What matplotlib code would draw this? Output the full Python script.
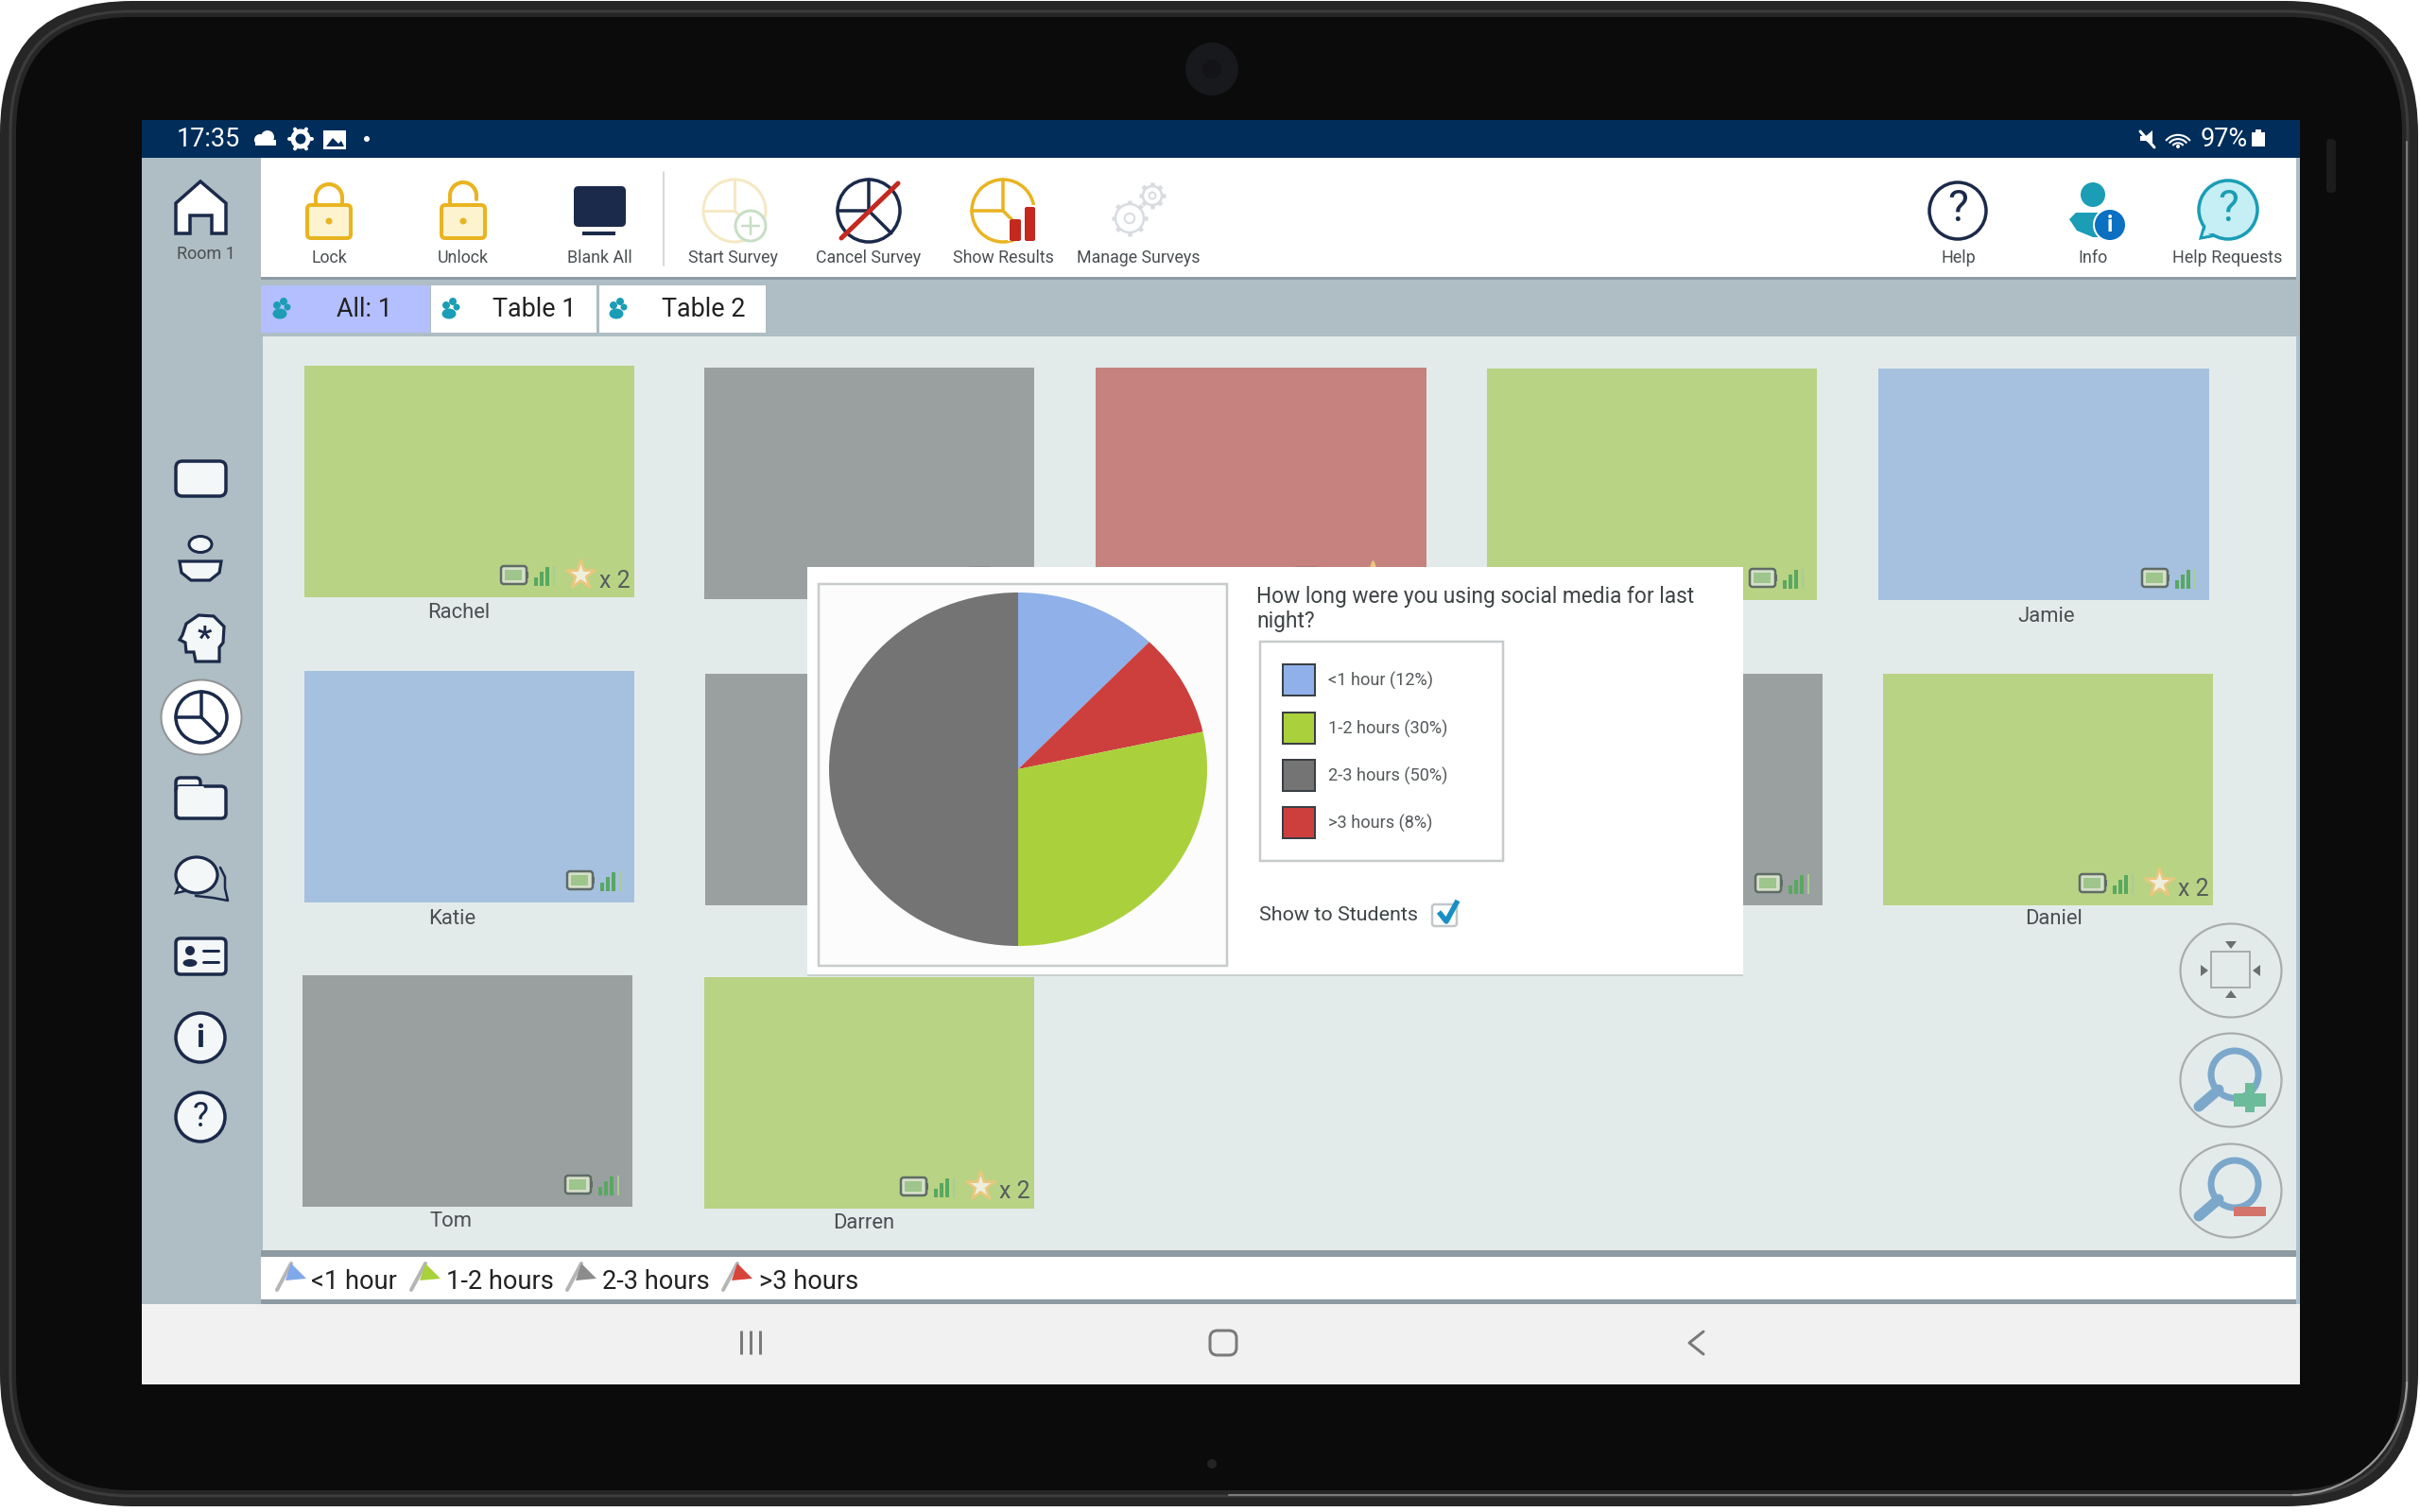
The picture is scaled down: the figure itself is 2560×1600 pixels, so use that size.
import math
import matplotlib
matplotlib.use('Agg')
import matplotlib.pyplot as plt
from matplotlib.patches import Rectangle, Circle, Ellipse, FancyBboxPatch, Polygon, Arc

plt.rcParams['font.family'] = ['Roboto', 'DejaVu Sans']

# survey data
responses = ['<1 hour', '1-2 hours', '2-3 hours', '>3 hours']
shares = [12, 30, 50, 8]
# slices as drawn in the picture, clockwise from the top
slice_values = [12.2, 9.4, 28.4, 50]
slice_resp = [0, 3, 1, 2]
question = ['How long were you using social media for last', 'night?']

# student tiles, row by row. resp indexes responses
tile_names = ['Rachel', '', '', '', 'Jamie', 'Katie', '', '', 'Daniel', 'Tom', 'Darren']
tile_resp = [1, 2, 3, 1, 0, 0, 2, 2, 1, 2, 1]
tile_stars = [2, 0, 1, 0, 0, 0, 0, 0, 2, 0, 2]

toolbar_labels = ['Lock', 'Unlock', 'Blank All', 'Start Survey', 'Cancel Survey', 'Show Results', 'Manage Surveys']
right_labels = ['Help', 'Info', 'Help Requests']
tab_labels = ['All: 1', 'Table 1', 'Table 2']

# colours
resp_colors = ['#8FB0E8', '#AAD03B', '#747474', '#CC3F3D']
tile_colors = ['#A6C0DF', '#B8D384', '#9AA0A0', '#C5827E']
flag_colors = ['#7FA9EA', '#A9D13A', '#8C8C8C', '#D8443A']
NAVY = '#1B2A4A'
AMBER = '#E9B422'
TEAL = '#1A9DB5'
SIDE = '#AFBDC4'
TEXT = '#4A4F52'

# layout in pixels
tile_x = [322, 745, 1159, 1573, 1987, 322, 746, 1579, 1992, 320, 745]
tile_y = [387, 389, 389, 390, 390, 710, 713, 713, 713, 1032, 1034]
tile_w = [349, 349, 350, 349, 350, 349, 349, 349, 349, 349, 349]
name_x = [485, 0, 0, 0, 2165, 478, 0, 0, 2173, 477, 914]
name_y = [647, 0, 0, 0, 651, 971, 0, 0, 971, 1291, 1293]
TILE_H = 245

fig = plt.figure(figsize=(25.6, 16), dpi=100, facecolor='white')
ax = fig.add_axes([0, 0, 1, 1])
ax.set_xlim(0, 2560)
ax.set_ylim(1600, 0)
ax.axis('off')


def rect(x0, y0, x1, y1, color, z=2, **kw):
    ax.add_patch(Rectangle((x0, y0), x1 - x0, y1 - y0, facecolor=color, edgecolor=kw.pop('ec', 'none'),
                           linewidth=kw.pop('lw', 0) * 0.72, zorder=z, **kw))


def rrect(x0, y0, x1, y1, r, fc, ec='none', lw=0, z=3):
    ax.add_patch(FancyBboxPatch((x0 + r, y0 + r), x1 - x0 - 2 * r, y1 - y0 - 2 * r,
                                boxstyle='round,pad=%f,rounding_size=%f' % (r, r),
                                facecolor=fc, edgecolor=ec, linewidth=lw * 0.72, zorder=z))


def circ(x, y, r, fc='none', ec='none', lw=0, z=3):
    ax.add_patch(Circle((x, y), r, facecolor=fc, edgecolor=ec, linewidth=lw * 0.72, zorder=z))


def ell(x, y, w, h, fc='none', ec='none', lw=0, z=3):
    ax.add_patch(Ellipse((x, y), w, h, facecolor=fc, edgecolor=ec, linewidth=lw * 0.72, zorder=z))


def line(xs, ys, color, lw=3, z=4, cap='round'):
    ax.plot(xs, ys, color=color, linewidth=lw * 0.72, solid_capstyle=cap, zorder=z)


def poly(pts, fc, ec='none', lw=0, z=4):
    ax.add_patch(Polygon(pts, closed=True, facecolor=fc, edgecolor=ec, linewidth=lw * 0.72, zorder=z))


def label(x, y, s, px, color=TEXT, ha='center', z=6, **kw):
    ax.text(x, y + 1.5, s, fontsize=px * 0.72, color=color, ha=ha, va='center', zorder=z, **kw)


# tablet body
rrect(0, 1, 2558, 1594, 140, '#262626', z=1)
rrect(11, 12, 2547, 1583, 128, 'none', ec='#3C3C3C', lw=3, z=1)
rrect(17, 18, 2541, 1577, 122, '#0B0B0B', z=1)
line([2546, 2546], [150, 1462], '#7C7C7C', lw=2, z=1)
line([1300, 2425], [1582, 1582], '#7C7C7C', lw=2, z=1)
ax.add_patch(Arc((2425, 1462), 242, 240, theta1=0, theta2=90, color='#9A9A9A', linewidth=1.6, zorder=1))
circ(1282, 73, 28, fc='#17191D', z=1)
circ(1282, 73, 10, fc='#141317', z=1)
circ(1282, 1549, 5, fc='#242424', z=1)
rrect(2461, 147, 2471, 204, 4, '#1C1C1C', z=1)

# screen regions
rect(150, 127, 2433, 167, '#002D5A')
rect(150, 167, 278, 1380, SIDE)
rect(276, 167, 2433, 356, SIDE)
rect(276, 167, 2429, 293, 'white')
rect(276, 293, 2429, 296, '#8E9AA1')
rect(278, 356, 2429, 1323, '#E3EBEA')
rect(2429, 356, 2433, 1380, '#AFC3CF')
rect(276, 1323, 2429, 1330, '#8E9AA1')
rect(276, 1330, 2429, 1375, 'white')
rect(276, 1375, 2429, 1380, '#8E9AA1')
rect(150, 1380, 2433, 1465, '#F1F1F1')

# status bar
label(187, 146, '17:35', 27, color='white', ha='left')
circ(275, 148, 6, fc='white')
circ(283, 145, 7, fc='white')
rect(270, 148, 292, 154, 'white', z=4)
circ(318, 147, 8, ec='white', lw=5)
for i in range(6):
    a = i * math.pi / 3
    line([318 + 8 * math.cos(a), 318 + 12 * math.cos(a)],
         [147 + 8 * math.sin(a), 147 + 12 * math.sin(a)], 'white', lw=4)
rect(342, 138, 366, 158, 'white')
poly([(345, 155), (352, 146), (358, 152), (361, 149), (364, 155)], '#002D5A')
circ(388, 147, 3, fc='white')
line([2264, 2279], [139, 156], 'white', lw=3)
poly([(2264, 144), (2270, 144), (2277, 138), (2277, 154), (2270, 149), (2264, 149)], 'white')
for r in [32, 23, 14]:
    ax.add_patch(Arc((2304, 158), r, r * 0.95, theta1=215, theta2=325, color='white', linewidth=1.5, zorder=4))
circ(2304, 155, 2, fc='white')
label(2328, 146, '97%', 27, color='white', ha='left')
rect(2382, 140, 2396, 155, 'white')
rect(2386, 137, 2392, 140, 'white')

# room button
poly([(186, 215), (212, 192), (239, 215), (239, 247), (224, 247), (224, 228), (201, 228), (201, 247), (186, 247)],
     'white', ec=NAVY, lw=3.5)
label(218, 268, 'Room 1', 18)


# toolbar icons
def lock(x, opened):
    rrect(x - 23, 217, x + 23, 252, 4, '#FDF3CF', ec=AMBER, lw=4)
    circ(x, 234, 3.5, fc=AMBER, z=5)
    cy = 207 if opened else 209
    ax.add_patch(Arc((x, cy), 28, 28, theta1=180, theta2=360, color=AMBER, linewidth=3, zorder=4))
    line([x - 14, x - 14], [cy, 217], AMBER, lw=4)
    line([x + 14, x + 14], [cy, 211 if opened else 217], AMBER, lw=4)


def pie_icon(x, y, r, color, lw=3.5, z=4):
    circ(x, y, r, fc='white', ec=color, lw=lw, z=z)
    line([x, x], [y - r, y], color, lw=lw, z=z + 1)
    line([x - r, x], [y, y], color, lw=lw, z=z + 1)
    line([x, x + r * 0.72], [y, y + r * 0.72], color, lw=lw, z=z + 1)


def gear(x, y, r, color):
    circ(x, y, r, ec=color, lw=2.5)
    circ(x, y, r * 0.35, ec=color, lw=2)
    for i in range(8):
        a = i * math.pi / 4
        line([x + r * math.cos(a), x + (r + 4) * math.cos(a)],
             [y + r * math.sin(a), y + (r + 4) * math.sin(a)], color, lw=4.5, cap='butt')


lock(348, False)
lock(490, True)
rrect(607, 197, 662, 240, 5, NAVY)
rect(616, 245, 651, 249, NAVY)
line([702, 702], [182, 281], '#C8CDD0', lw=1.5)
pie_icon(777, 223, 33, '#F5E8C4', lw=3)
circ(794, 239, 16, fc='white', ec='#C7DFC4', lw=3, z=6)
line([794, 794], [230, 248], '#C7DFC4', lw=2.5, z=7)
line([785, 803], [239, 239], '#C7DFC4', lw=2.5, z=7)
pie_icon(919, 223, 33, NAVY)
line([950, 890], [194, 252], '#C4281F', lw=5, z=7)
pie_icon(1061, 223, 33, AMBER)
rect(1066, 232, 1082, 255, 'white', z=6)
rect(1082, 217, 1097, 255, 'white', z=6)
rrect(1068, 232, 1080, 255, 2, '#C4281F', z=7)
rrect(1084, 219, 1095, 255, 2, '#C4281F', z=7)
gear(1195, 231, 15, '#D8DCE0')
gear(1219, 207, 10, '#D8DCE0')

for x, s in zip([348, 490, 634, 775, 919, 1061, 1204], toolbar_labels):
    label(x, 271, s, 17.8)

# right hand icons
circ(2071, 223, 30, fc='white', ec=NAVY, lw=3.5)
label(2071, 220, '?', 46, color=NAVY)
circ(2214, 206, 13, fc=TEAL)
poly([(2189, 232), (2196, 225), (2232, 225), (2232, 251), (2214, 251), (2197, 244)], TEAL)
circ(2232, 238, 18, fc='white', z=4)
circ(2232, 238, 16, fc='#0B6FC2', z=5)
label(2232, 237, 'i', 24, color='white', fontweight='bold')
poly([(2332, 238), (2328, 252), (2350, 248)], '#C5EEF5', ec=TEAL, lw=3)
circ(2357, 222, 31, fc='#C5EEF5', ec=TEAL, lw=3.5, z=4)
poly([(2334, 236), (2332, 248), (2348, 246)], '#C5EEF5', z=5)
label(2357, 219, '?', 46, color=TEAL)
for x, s in zip([2072, 2214, 2356], right_labels):
    label(x, 271, s, 18)


# tabs
def people(x, y, color):
    circ(x + 2, y - 7, 4, fc=color)
    circ(x - 5, y - 3, 4, fc=color)
    circ(x + 6, y - 1, 3.5, fc=color)
    ell(x - 2, y + 6, 15, 11, fc=color)


rect(276, 302, 455, 352, '#B3BFFF')
rect(456, 302, 631, 352, 'white')
rect(634, 302, 810, 352, 'white')
for x, tx, s in zip([298, 477, 654], [385, 565, 744], tab_labels):
    people(x, 326, '#1A9DB5')
    label(tx, 326, s, 27, color='#222222')

# sidebar
SX = 212
rrect(186, 488, 239, 525, 7, '#F4F7F8', ec=NAVY, lw=3.5)
ell(SX, 576, 24, 17, fc='#F4F7F8', ec=NAVY, lw=3)
poly([(190, 594), (234, 594), (232, 606), (222, 614), (202, 614), (192, 606)], '#F4F7F8', ec=NAVY, lw=3.2)
poly([(193, 672), (197, 660), (210, 651), (226, 652), (237, 663), (236, 680), (232, 685), (232, 700), (207, 700),
      (205, 690), (197, 690), (196, 680), (190, 677)], '#F4F7F8', ec=NAVY, lw=3.2)
label(SX + 4, 675, '*', 34, color=NAVY, fontweight='bold')
ell(213, 759, 85, 79, fc='white', ec='#8F9396', lw=2)
pie_icon(213, 759, 27, NAVY, lw=3.5)
rrect(186, 832, 239, 866, 5, '#F4F7F8', ec=NAVY, lw=3.5)
rrect(186, 823, 212, 840, 5, '#F4F7F8', ec=NAVY, lw=3.5, z=2)
line([189, 214], [833, 833], '#F4F7F8', lw=3, z=4)
line([233, 238, 238, 241, 225, 207], [918, 928, 940, 953, 950, 948], NAVY, lw=2.5, z=3)
ell(208, 926, 44, 38, fc='#F4F7F8', ec=NAVY, lw=3.2)
poly([(190, 935), (186, 945), (200, 942)], '#F4F7F8', ec=NAVY, lw=2.5, z=2)
rrect(186, 993, 239, 1031, 5, '#F4F7F8', ec=NAVY, lw=3.5)
circ(201, 1006, 5, fc=NAVY, z=5)
ell(201, 1019, 15, 8, fc=NAVY, z=5)
line([215, 231], [1006, 1006], NAVY, lw=3)
line([215, 231], [1018, 1018], NAVY, lw=3)
circ(SX, 1098, 26, fc='#F4F7F8', ec=NAVY, lw=3.5)
label(SX, 1097, 'i', 34, color=NAVY, fontweight='bold')
circ(SX, 1182, 26, fc='#F4F7F8', ec=NAVY, lw=3.5)
label(SX, 1180, '?', 36, color=NAVY)


# student tiles
def tile(x, y, w, resp, stars, name, nx, ny):
    r = x + w
    b = y + TILE_H
    rect(x, y, r, b, tile_colors[resp], z=2)
    shift = 70 if stars == 0 else 0
    bx = r - 141 + shift
    rrect(bx, b - 33, bx + 27, b - 14, 3, '#D5DFC9', ec='#5F6C66', lw=2.5, z=3)
    rect(bx + 27, b - 27, bx + 29, b - 20, '#5F6C66', z=3)
    rect(bx + 4, b - 29, bx + 22, b - 18, '#9DC58C', z=4)
    for i, h in enumerate([9, 15, 20]):
        rect(bx + 35 + i * 6, b - 12 - h, bx + 39 + i * 6, b - 12, '#58A861', z=3)
    rect(bx + 55, b - 33, bx + 57, b - 12, '#A9CC93', z=3)
    if stars > 0:
        ax.scatter([r - 57], [b - 24], s=520, marker='*', facecolor='#EEEEDC', edgecolor='#E9C77E',
                   linewidth=2, zorder=4)
    if stars > 1:
        label(r - 21, b - 19, 'x %d' % stars, 25, color='#565D5E')
    if name:
        label(nx, ny, name, 22)


for i in range(len(tile_names)):
    tile(tile_x[i], tile_y[i], tile_w[i], tile_resp[i], tile_stars[i], tile_names[i], name_x[i], name_y[i])

# map and zoom buttons
for cy in [1027, 1143, 1260]:
    ell(2360, cy, 107, 99, ec='#A8ACAC', lw=2.2)
rect(2339, 1007, 2380, 1045, 'none', ec='#A8ACAC', lw=2, z=4)
for x, y, dx, dy in [(2360, 999, 0, 1), (2360, 1053, 0, -1), (2331, 1027, 1, 0), (2388, 1027, -1, 0)]:
    poly([(x + dx * 5, y + dy * 5), (x - dx * 3 + dy * 6, y - dy * 3 + dx * 6),
          (x - dx * 3 - dy * 6, y - dy * 3 - dx * 6)], '#6A6F70')
for cy in [1137, 1253]:
    circ(2364, cy, 25, ec='#7BA7CB', lw=7)
    line([2347, 2326], [cy + 16, cy + 34], '#7BA7CB', lw=11)
rect(2363, 1157, 2397, 1171, '#6CBB9A', z=5)
rect(2375, 1146, 2385, 1177, '#6CBB9A', z=5)
rect(2363, 1277, 2397, 1287, '#D4746A', z=5)

# flag legend
flag_x = [293, 435, 600, 765]
text_x = [329, 472, 637, 803]
for i in range(len(responses)):
    x = flag_x[i]
    line([x, x + 15], [1365, 1337], '#B5B5B5', lw=4)
    poly([(x + 15, 1337), (x + 31, 1353), (x + 9, 1355)], flag_colors[i])
    label(text_x[i], 1355, responses[i], 27.3, color='#222222', ha='left')

# nav bar
for x in [784, 794, 804]:
    line([x, x], [1408, 1433], '#7A7A7A', lw=3, cap='butt')
rrect(1280, 1408, 1308, 1434, 8, 'none', ec='#7A7A7A', lw=3)
line([1802, 1787, 1802], [1409, 1421, 1433], '#7A7A7A', lw=3)

# survey popup
rect(854, 600, 1844, 1033, 'white', z=10)
rect(854, 1031, 1844, 1033, '#C9D0D0', z=10)
rect(866, 618, 1298, 1022, '#FCFCFC', ec='#C7CBCC', lw=2.5, z=11)
for i, s in enumerate(question):
    label(1329, [630, 656][i], s, 22.8, color='#3F4446', ha='left', z=12)
rect(1333, 679, 1590, 911, 'white', ec='#C7CBCC', lw=2.5, z=11)
swatch_y = [703, 754, 804, 854]
for i in range(len(responses)):
    rect(1357, swatch_y[i], 1391, swatch_y[i] + 33, resp_colors[i], ec='#3A3F44', lw=2, z=12)
    label(1405, swatch_y[i] + 16, '%s (%d%%)' % (responses[i], shares[i]), 18.2, color='#55595B', ha='left', z=12)
label(1332, 967, 'Show to Students', 21.5, color='#3F4446', ha='left', z=12)
rrect(1515, 957, 1541, 980, 3, 'white', ec='#C2C8CA', lw=2.5, z=12)
line([1522, 1530, 1542], [965, 975, 953], '#1A8FC4', lw=5.5, z=13, cap='butt')

# the pie chart itself
pie_ax = fig.add_axes([877 / 2560, 1 - 1001 / 1600, 400 / 2560, 374 / 1600])
pie_ax.pie(slice_values, colors=[resp_colors[i] for i in slice_resp],
           startangle=90, counterclock=False, radius=1)
pie_ax.set_aspect('auto')
pie_ax.set_xlim(-1, 1)
pie_ax.set_ylim(-1, 1)

fig.savefig('out.png', dpi=100, facecolor='white')
